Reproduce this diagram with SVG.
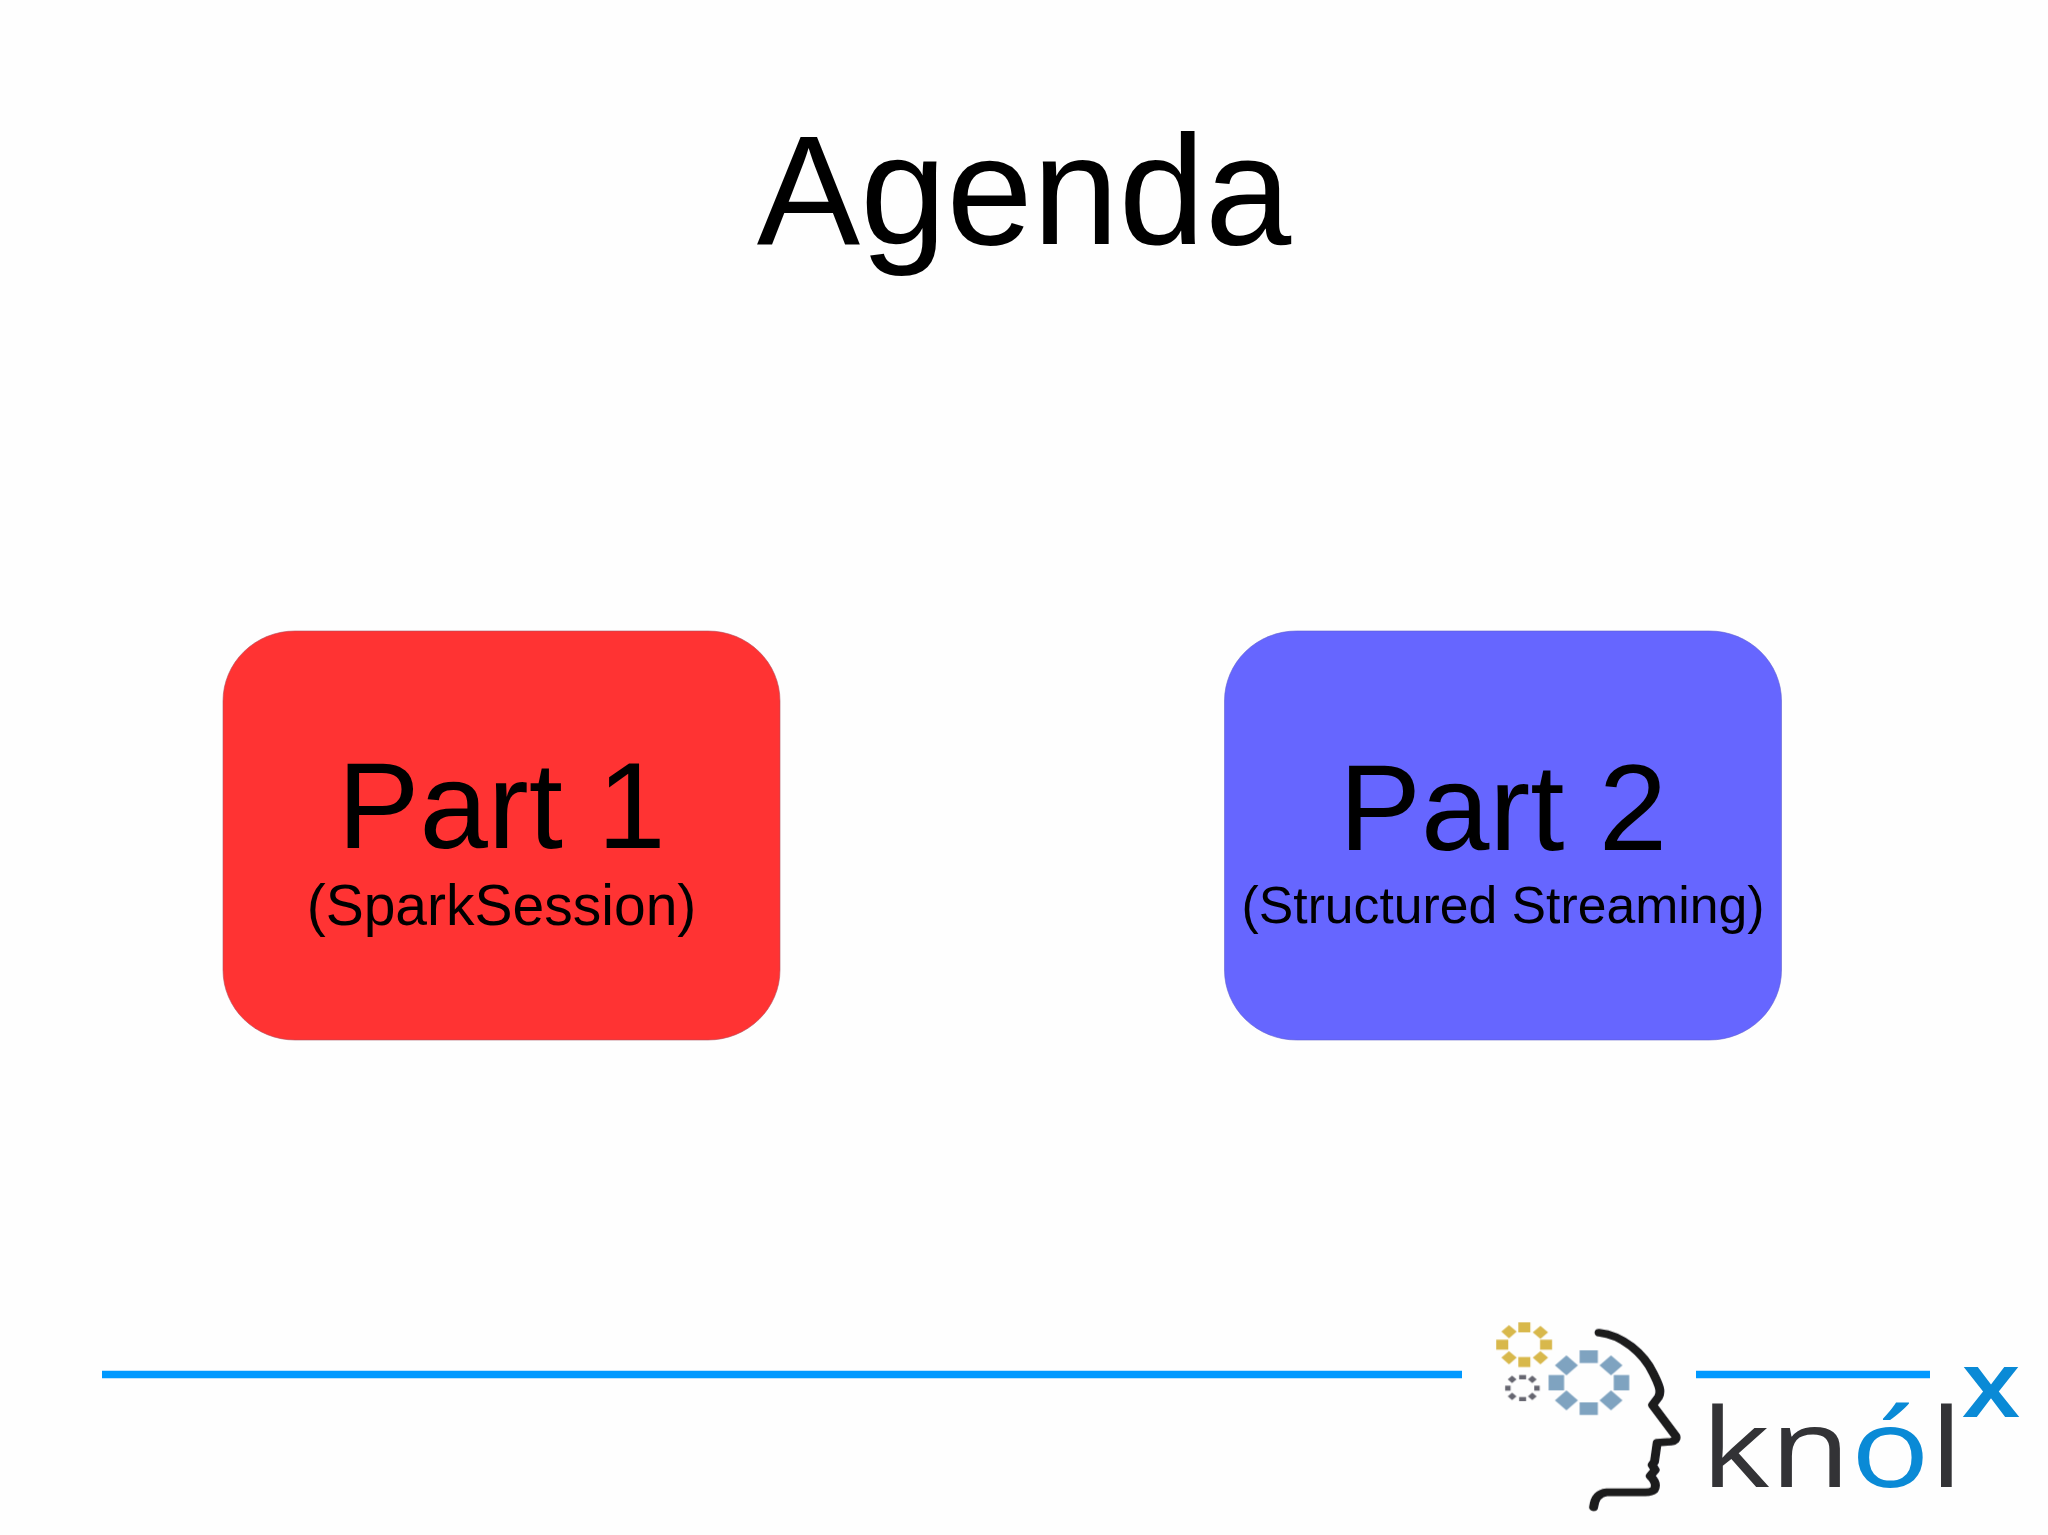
<svg xmlns="http://www.w3.org/2000/svg" width="2048" height="1535" viewBox="0 0 2048 1535">
<style>
text{font-family:"Liberation Sans",Arial,sans-serif;fill:#000;text-anchor:middle}
.rule{stroke:#0099ff;stroke-width:7.5;fill:none}
.big{font-size:123px}
text.logo{font-family:"Open Sans","Noto Sans",sans-serif;text-anchor:start}
text.dk{fill:#333336}
tspan.bl,text.bl{fill:#0a8ad6}
</style>
<defs>
<filter id="soft" x="-5%" y="-5%" width="110%" height="110%"><feGaussianBlur stdDeviation="0.8"/></filter>
</defs>
<rect width="2048" height="1535" fill="#fefefe"/>
<g id="title"><text x="1024" y="243.500" font-size="155">Agenda</text></g>
<g id="part1">
<rect x="223" y="631" width="557" height="409" rx="72" ry="70" fill="#ff3333" stroke="#b05060" stroke-width="0.6"/>
<text class="big" x="501.500" y="847.500">Part 1</text>
<text x="501.500" y="924.500" font-size="57">(SparkSession)</text>
</g>
<g id="part2">
<rect x="1224.500" y="631" width="557" height="409" rx="72" ry="70" fill="#6666ff" stroke="#6060d0" stroke-width="0.6"/>
<text class="big" x="1503" y="850">Part 2</text>
<text x="1503" y="922.500" font-size="51.700">(Structured Streaming)</text>
</g>
<g id="connectors">
<line class="rule" x1="102" y1="1374.500" x2="1462" y2="1374.500"/>
<line class="rule" x1="1696" y1="1374.500" x2="1930" y2="1374.500"/>
</g>
<g id="logo" transform="translate(1440,1290) scale(.3878,.3333)" filter="url(#soft)">
<g fill="#d8b84c">
<rect x="202" y="97" width="31" height="30"/><rect x="202" y="201" width="31" height="30"/><rect x="145" y="149" width="31" height="30"/><rect x="258" y="149" width="31" height="30"/>
<rect x="-14" y="-14" width="28" height="28" transform="translate(178,125) rotate(45)"/><rect x="-14" y="-14" width="28" height="28" transform="translate(259,127) rotate(45)"/><rect x="-14" y="-14" width="28" height="28" transform="translate(178,203) rotate(45)"/><rect x="-14" y="-14" width="28" height="28" transform="translate(259,203) rotate(45)"/>
</g>
<g fill="#7fa3c0">
<rect x="360" y="181" width="47" height="38"/><rect x="360" y="337" width="47" height="38"/><rect x="280" y="255" width="40" height="46"/><rect x="448" y="255" width="40" height="46"/>
<rect x="-21" y="-21" width="42" height="42" transform="translate(326,226) rotate(45)"/><rect x="-21" y="-21" width="42" height="42" transform="translate(441,226) rotate(45)"/><rect x="-21" y="-21" width="42" height="42" transform="translate(326,331) rotate(45)"/><rect x="-21" y="-21" width="42" height="42" transform="translate(441,331) rotate(45)"/>
</g>
<g fill="#666670">
<rect x="204" y="255" width="18" height="13"/><rect x="204" y="321" width="18" height="13"/><rect x="168" y="287" width="14" height="15"/><rect x="243" y="287" width="14" height="15"/>
<rect x="-8" y="-8" width="16" height="16" transform="translate(186,268) rotate(45)"/><rect x="-8" y="-8" width="16" height="16" transform="translate(238,268) rotate(45)"/><rect x="-8" y="-8" width="16" height="16" transform="translate(186,319) rotate(45)"/><rect x="-8" y="-8" width="16" height="16" transform="translate(238,319) rotate(45)"/>
</g>
<path d="M410 128C470 135 525 190 550 250C565 285 572 305 563 322L548 345L608 438Q612 452 595 455L560 458L553 515L547 525L555 540L542 558Q562 580 552 600Q545 607 530 607L430 607Q400 610 396 652" fill="none" stroke="#1a1a1c" stroke-width="23" stroke-linecap="round" stroke-linejoin="round"/>
</g>
<g id="wordmark">
<text class="logo dk" x="1701" y="1486.500" font-size="109" font-weight="500" textLength="262" lengthAdjust="spacingAndGlyphs">kn<tspan class="bl">ó</tspan>l</text>
<text class="logo bl" x="1961.500" y="1417" font-size="92" font-weight="600" textLength="59" lengthAdjust="spacingAndGlyphs">x</text>
</g>
</svg>
